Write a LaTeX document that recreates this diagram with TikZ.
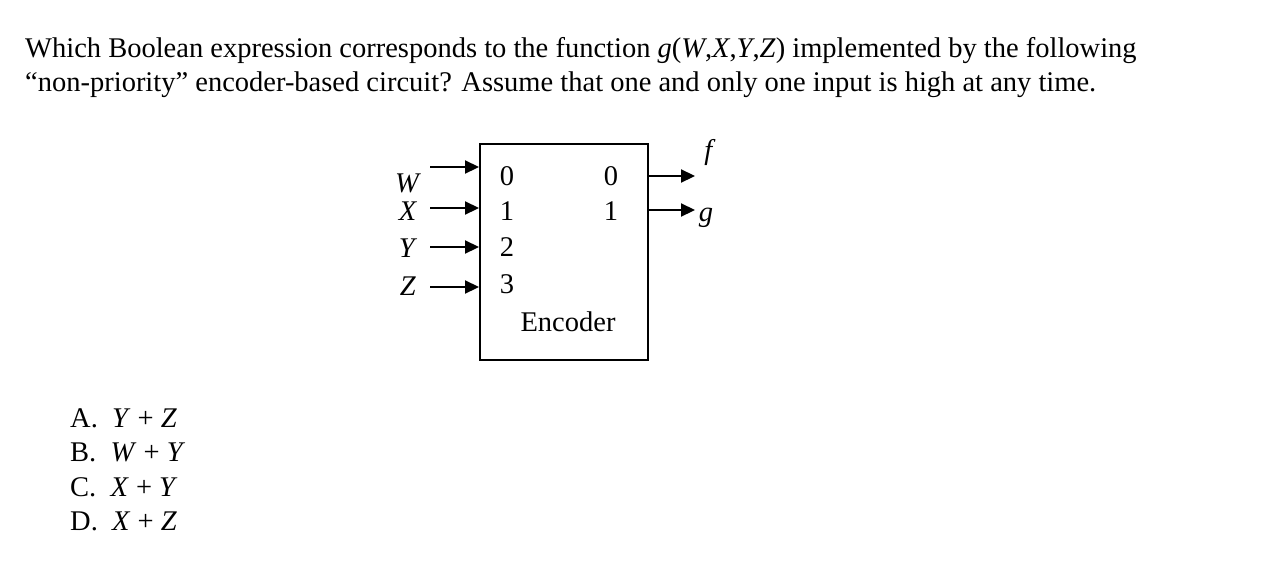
\documentclass[tikz,border=0pt]{standalone}
\usepackage{fontspec}
\setmainfont{Liberation Serif}
\usetikzlibrary{arrows.meta}
\newcommand{\vi}[1]{\textit{#1}}
\begin{document}
\begin{tikzpicture}[x=1pt,y=-1pt,
  txt/.style={anchor=base west,inner sep=0pt,font=\fontsize{28.5}{34}\selectfont},
  lab/.style={inner sep=0pt,font=\fontsize{28.5}{34}\selectfont},
  arr/.style={line width=2.2pt,-{Triangle[length=14pt,width=13pt]}}]
\useasboundingbox[fill=white] (0,0) rectangle (1264,568);
\node[txt] (l1) at (25,57) {Which Boolean expression corresponds to the function \vi{g}(\vi{W},\vi{X},\vi{Y},\vi{Z}) implemented by the following};
\node[txt] (l2) at (25,91) {``non-priority'' encoder-based circuit? Assume that one and only one input is high at any time.};
\node[draw,line width=1.6pt,minimum width=168pt,minimum height=216pt,anchor=north west,inner sep=0pt] (enc) at (479,143) {};
\foreach \n/\yy/\v/\ly in {i0/167/W/183,i1/208/X/211,i2/247/Y/248,i3/287/Z/286}{
  \coordinate (\n s) at (430,\yy);
  \coordinate (\n e) at (479,\yy);
  \draw[arr] (\n s) -- (\n e);
  \node[lab] (\n l) at (408,\ly) {\vi{\v}};
}
\foreach \n/\yy/\t in {p0/176/0,p1/211/1,p2/247/2,p3/284/3}{\node[lab] (\n) at (507,\yy) {\t};}
\node[lab] (q0) at (611,176) {0};
\node[lab] (q1) at (611,211) {1};
\coordinate (o0s) at (648,176); \coordinate (o0e) at (695,176);
\coordinate (o1s) at (648,210); \coordinate (o1e) at (695,210);
\draw[arr] (o0s) -- (o0e);
\draw[arr] (o1s) -- (o1e);
\node[lab] (f) at (710,152) {\vi{f}};
\node[lab] (g) at (706,218) {\vi{g}};
\node[lab] (encl) at (568,322) {Encoder};
\node[txt] (a) at (70,427) {A.\ \ \vi{Y} + \vi{Z}};
\node[txt] (b) at (70,461) {B.\ \ \vi{W} + \vi{Y}};
\node[txt] (c) at (70,496) {C.\ \ \vi{X} + \vi{Y}};
\node[txt] (d) at (70,530) {D.\ \ \vi{X} + \vi{Z}};
\end{tikzpicture}
\end{document}
